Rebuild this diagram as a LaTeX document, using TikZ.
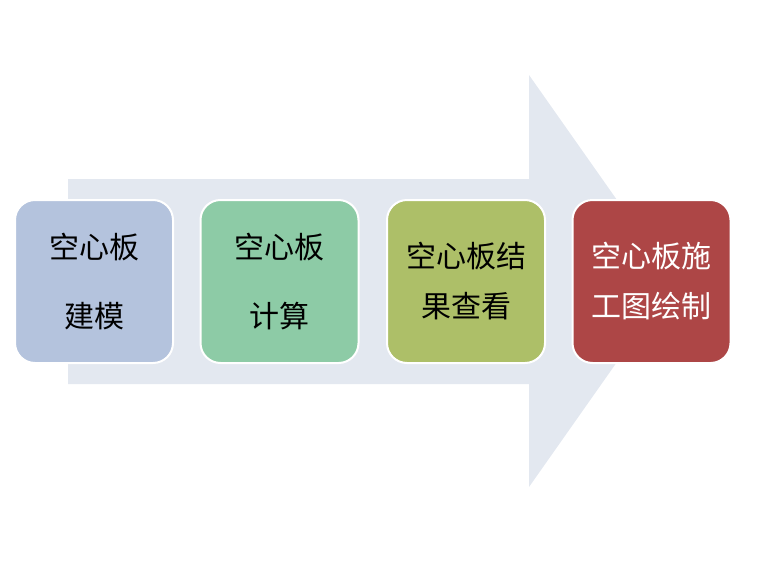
\documentclass[tikz,border=0pt]{standalone}
\usepackage{fontspec}
\newfontfamily\cjk{Noto Sans CJK SC}
\usetikzlibrary{positioning}
\definecolor{arrowgray}{RGB}{227,232,240}
\definecolor{modelblue}{RGB}{180,195,221}
\definecolor{calcgreen}{RGB}{141,203,166}
\definecolor{checkolive}{RGB}{173,191,104}
\definecolor{drawred}{RGB}{173,70,70}

\begin{document}
\begin{tikzpicture}[x=1pt, y=-1pt,
	stage/.style={shape=rectangle, rounded corners=20pt, draw=white, line width=2pt, minimum width=158pt, minimum height=163pt, inner sep=0pt, align=center},
	wide/.style={font=\cjk\fontsize{30}{69}\selectfont},
	tight/.style={font=\cjk\fontsize{30}{50}\selectfont}]
	\useasboundingbox (0,0) rectangle (760,570);
	\fill[arrowgray] (68,179) -- (529,179) -- (529,75) -- (674,281) -- (529,487) -- (529,384) -- (68,384) -- cycle;

	\node[stage, wide, fill=modelblue] (M) at (94,281.5) {空心板\\建模};
	\node[stage, wide, fill=calcgreen] (C) at (279.5,281.5) {空心板\\计算};
	\node[stage, tight, fill=checkolive] (R) at (466,281.5) {空心板结\\果查看};
	\node[stage, tight, fill=drawred, text=white] (D) at (651.5,281.5) {空心板施\\工图绘制};
\end{tikzpicture}
\end{document}
